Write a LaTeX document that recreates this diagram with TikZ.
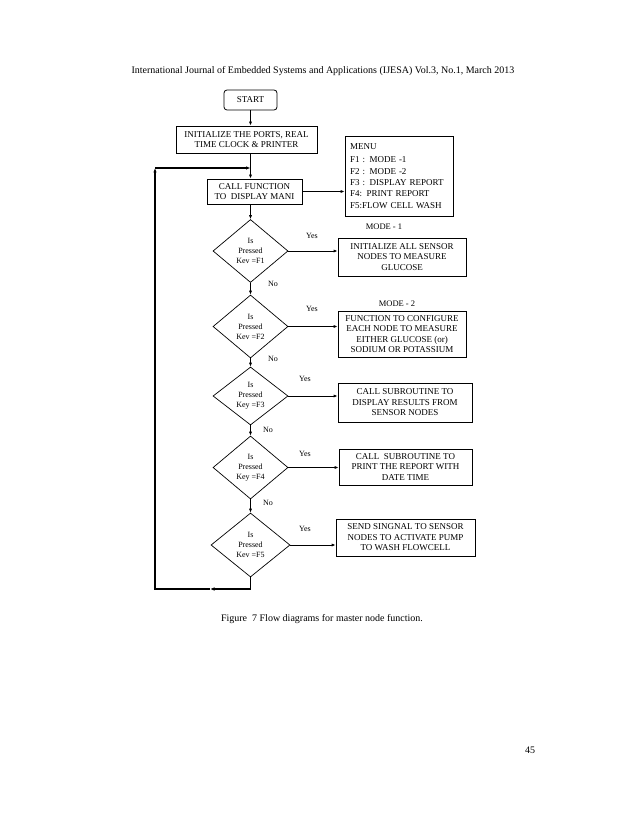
\documentclass[tikz,border=0pt]{standalone}
\usepackage{fontspec}
\setmainfont{Liberation Serif}
\usetikzlibrary{shapes.geometric,arrows.meta}
\begin{document}
\begin{tikzpicture}[x=1pt,y=-1pt,
  box/.style={draw, line width=0.8pt, font=\fontsize{9}{10.5}\selectfont, align=center, inner sep=0pt},
  dia/.style={draw, diamond, line width=0.7pt, font=\fontsize{8}{10}\selectfont, align=center, inner sep=0pt, minimum width=75pt, minimum height=63pt},
  lbl/.style={font=\fontsize{8}{9}\selectfont, inner sep=0pt},
  arr/.style={line width=0.8pt, -{Latex[length=4pt,width=3.2pt]}},
  loopline/.style={line width=1.4pt},
  page/.style={font=\fontsize{10}{12}\selectfont, inner sep=0pt}]
\useasboundingbox (0,0) rectangle (638,826);
\fill[white] (0,0) rectangle (638,826);

\node[page] (hdr) at (323,71) {International Journal of Embedded Systems and Applications (IJESA) Vol.3, No.1, March 2013};

\node[box, rounded corners=3pt, minimum width=53pt, minimum height=20pt] (start) at (250.5,100) {START};
\node[box, minimum width=141pt, minimum height=27pt] (init) at (246.5,139.5) {INITIALIZE THE PORTS, REAL\\TIME CLOCK \& PRINTER};
\node[box, minimum width=95pt, minimum height=25pt] (call) at (254.5,191.5) {CALL FUNCTION\\TO \ DISPLAY MANI};
\node[box, minimum width=108pt, minimum height=80pt, text width=98pt, align=left, inner xsep=5pt, font=\fontsize{9}{11.3}\selectfont] (menu) at (399,176)
  {MENU\\[2pt]F1 : MODE -1\\F2 : MODE -2\\F3 : DISPLAY REPORT\\F4: PRINT REPORT\\F5:FLOW CELL WASH};

\node[dia] (d1) at (250.5,251) {Is\\Pressed\\Kev =F1};
\node[dia] (d2) at (250.5,326.5) {Is\\Pressed\\Kev =F2};
\node[dia, minimum height=58pt] (d3) at (250.5,396) {Is\\Pressed\\Key =F3};
\node[dia] (d4) at (250.5,467.5) {Is\\Pressed\\Key =F4};
\node[dia, minimum width=79pt, minimum height=64pt] (d5) at (250.5,545) {Is\\Pressed\\Kev =F5};

\node[box, minimum width=128pt, minimum height=38pt] (r1) at (402,257) {INITIALIZE ALL SENSOR\\NODES TO MEASURE\\GLUCOSE};
\node[box, minimum width=128pt, minimum height=46pt] (r2) at (402,334) {FUNCTION TO CONFIGURE\\EACH NODE TO MEASURE\\EITHER GLUCOSE (or)\\SODIUM OR POTASSIUM};
\node[box, minimum width=134pt, minimum height=39pt] (r3) at (405,402.5) {CALL SUBROUTINE TO\\DISPLAY RESULTS FROM\\SENSOR NODES};
\node[box, minimum width=133pt, minimum height=36pt] (r4) at (405.5,467) {CALL \ SUBROUTINE TO\\PRINT THE REPORT WITH\\DATE TIME};
\node[box, minimum width=139pt, minimum height=37pt] (r5) at (405.5,537.5) {SEND SINGNAL TO SENSOR\\NODES TO ACTIVATE PUMP\\TO WASH FLOWCELL};

\node[lbl, font=\fontsize{8.5}{9}\selectfont] (m1) at (384,227) {MODE - 1};
\node[lbl, font=\fontsize{8.5}{9}\selectfont] (m2) at (397,304) {MODE - 2};

% main column
\draw[arr] (start.south) -- (start.south |- init.north);
\coordinate (cJ) at (250.5,168);
\draw[line width=0.8pt] (init.south -| cJ) -- (cJ);
\draw[arr] (cJ) -- (cJ |- call.north);
\draw[arr] (call.east) -- (call.east -| menu.west);
\draw[arr] (call.south -| d1.north) -- (d1.north);
\draw[arr] (d1.south) -- (d2.north);
\draw[arr] (d2.south) -- (d3.north);
\draw[arr] (d3.south) -- (d4.north);
\draw[arr] (d4.south) -- (d5.north);

% yes branches
\draw[arr] (d1.east) -- (d1.east -| r1.west);
\draw[arr] (d2.east) -- (d2.east -| r2.west);
\draw[arr] (d3.east) -- (d3.east -| r3.west);
\draw[arr] (d4.east) -- (d4.east -| r4.west);
\draw[arr] (d5.east) -- (d5.east -| r5.west);

\node[lbl] (y1) at (312,236) {Yes};
\node[lbl] (y2) at (312,309) {Yes};
\node[lbl] (y3) at (305,379) {Yes};
\node[lbl] (y4) at (305,454) {Yes};
\node[lbl] (y5) at (305,529) {Yes};
\node[lbl] (n1) at (273,284) {No};
\node[lbl] (n2) at (273,359) {No};
\node[lbl] (n3) at (268,430) {No};
\node[lbl] (n4) at (268,503) {No};

% loop back
\coordinate (cBR) at (250.5,589);
\coordinate (cA) at (210,589);
\coordinate (cBL) at (155,589);
\coordinate (cTL) at (155,168);
\draw[line width=0.8pt] (d5.south) -- (cBR);
\draw[loopline, -{Latex[length=4.5pt,width=3.5pt]}] (cBR) -- (cA);
\draw[loopline, -{Latex[length=4.5pt,width=3.5pt]}] (cA) -- (cBL) -- (cTL);
\draw[loopline, -{Latex[length=4.5pt,width=3.5pt]}] (cTL) -- (cJ);

\node[page] (cap) at (322,619) {Figure \ 7 Flow diagrams for master node function.};
\node[page] (pg) at (530,750) {45};
\end{tikzpicture}
\end{document}
